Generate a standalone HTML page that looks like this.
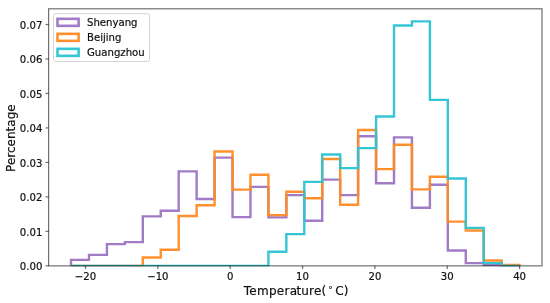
<!DOCTYPE html>
<html><head><meta charset="utf-8"><title>Temperature histogram</title>
<style>
html,body{margin:0;padding:0;background:#fff;}
svg{display:block;}
text{font-family:"DejaVu Sans","Liberation Sans",sans-serif;fill:#111;stroke:#111;stroke-width:0.2px;}
.t{font-size:10.15px;}
.l{font-size:12px;}
</style></head><body>
<svg width="550" height="303" viewBox="0 0 550 303">
<rect width="550" height="303" fill="#fff"/>
<defs><clipPath id="ax"><rect x="48.6" y="8.8" width="493.40" height="257.40"/></clipPath></defs><g clip-path="url(#ax)">
<path d="M71.03,265.85 L71.03,259.85 L88.97,259.85 L88.97,254.89 L106.92,254.89 L106.92,244.13 L124.86,244.13 L124.86,242.13 L142.80,242.13 L142.80,216.37 L160.74,216.37 L160.74,210.79 L178.69,210.79 L178.69,171.37 L196.63,171.37 L196.63,198.96 L214.57,198.96 L214.57,157.58 L232.52,157.58 L232.52,217.10 L250.46,217.10 L250.46,186.89 L268.40,186.89 L268.40,217.37 L286.34,217.37 L286.34,195.17 L304.29,195.17 L304.29,220.68 L322.23,220.68 L322.23,179.65 L340.17,179.65 L340.17,195.17 L358.11,195.17 L358.11,136.21 L376.06,136.21 L376.06,183.27 L394.00,183.27 L394.00,137.34 L411.94,137.34 L411.94,207.68 L429.89,207.68 L429.89,184.82 L447.83,184.82 L447.83,250.47 L465.77,250.47 L465.77,263.09 L483.71,263.09 L483.71,264.82 L501.66,264.82 L501.66,265.85 L519.60,265.85 L519.60,265.85" fill="none" stroke="#9d74c3" stroke-opacity="0.95" stroke-width="2.4" stroke-linejoin="miter"/>
<path d="M71.03,265.85 L71.03,265.85 L88.97,265.85 L88.97,265.85 L106.92,265.85 L106.92,265.85 L124.86,265.85 L124.86,265.85 L142.80,265.85 L142.80,257.57 L160.74,257.57 L160.74,249.68 L178.69,249.68 L178.69,215.99 L196.63,215.99 L196.63,205.30 L214.57,205.30 L214.57,151.55 L232.52,151.55 L232.52,189.65 L250.46,189.65 L250.46,174.68 L268.40,174.68 L268.40,215.16 L286.34,215.16 L286.34,191.72 L304.29,191.72 L304.29,198.27 L322.23,198.27 L322.23,158.96 L340.17,158.96 L340.17,204.82 L358.11,204.82 L358.11,130.00 L376.06,130.00 L376.06,169.10 L394.00,169.10 L394.00,144.76 L411.94,144.76 L411.94,189.37 L429.89,189.37 L429.89,176.79 L447.83,176.79 L447.83,221.58 L465.77,221.58 L465.77,230.54 L483.71,230.54 L483.71,260.44 L501.66,260.44 L501.66,264.99 L519.60,264.99 L519.60,265.85" fill="none" stroke="#ff8a22" stroke-opacity="0.95" stroke-width="2.4" stroke-linejoin="miter"/>
<path d="M71.03,265.85 L71.03,265.85 L88.97,265.85 L88.97,265.85 L106.92,265.85 L106.92,265.85 L124.86,265.85 L124.86,265.85 L142.80,265.85 L142.80,265.85 L160.74,265.85 L160.74,265.85 L178.69,265.85 L178.69,265.85 L196.63,265.85 L196.63,265.85 L214.57,265.85 L214.57,265.85 L232.52,265.85 L232.52,265.85 L250.46,265.85 L250.46,265.85 L268.40,265.85 L268.40,251.78 L286.34,251.78 L286.34,234.13 L304.29,234.13 L304.29,181.89 L322.23,181.89 L322.23,154.48 L340.17,154.48 L340.17,168.17 L358.11,168.17 L358.11,148.17 L376.06,148.17 L376.06,116.45 L394.00,116.45 L394.00,25.52 L411.94,25.52 L411.94,21.39 L429.89,21.39 L429.89,99.90 L447.83,99.90 L447.83,178.48 L465.77,178.48 L465.77,227.92 L483.71,227.92 L483.71,263.09 L501.66,263.09 L501.66,265.85 L519.60,265.85 L519.60,265.85" fill="none" stroke="#2ac3d3" stroke-opacity="0.95" stroke-width="2.4" stroke-linejoin="miter"/>
</g>
<rect x="48.6" y="8.8" width="493.40" height="257.05" fill="none" stroke="#000" stroke-opacity="0.56" stroke-width="1.2"/>
<line x1="85.50" y1="265.85" x2="85.50" y2="268.95000000000005" stroke="#000" stroke-opacity="0.56" stroke-width="1.2"/><text class="t" x="85.50" y="279.85" text-anchor="middle">−20</text>
<line x1="157.85" y1="265.85" x2="157.85" y2="268.95000000000005" stroke="#000" stroke-opacity="0.56" stroke-width="1.2"/><text class="t" x="157.85" y="279.85" text-anchor="middle">−10</text>
<line x1="230.20" y1="265.85" x2="230.20" y2="268.95000000000005" stroke="#000" stroke-opacity="0.56" stroke-width="1.2"/><text class="t" x="230.20" y="279.85" text-anchor="middle">0</text>
<line x1="302.55" y1="265.85" x2="302.55" y2="268.95000000000005" stroke="#000" stroke-opacity="0.56" stroke-width="1.2"/><text class="t" x="302.55" y="279.85" text-anchor="middle">10</text>
<line x1="374.90" y1="265.85" x2="374.90" y2="268.95000000000005" stroke="#000" stroke-opacity="0.56" stroke-width="1.2"/><text class="t" x="374.90" y="279.85" text-anchor="middle">20</text>
<line x1="447.25" y1="265.85" x2="447.25" y2="268.95000000000005" stroke="#000" stroke-opacity="0.56" stroke-width="1.2"/><text class="t" x="447.25" y="279.85" text-anchor="middle">30</text>
<line x1="519.60" y1="265.85" x2="519.60" y2="268.95000000000005" stroke="#000" stroke-opacity="0.56" stroke-width="1.2"/><text class="t" x="519.60" y="279.85" text-anchor="middle">40</text>
<line x1="45.5" y1="265.85" x2="48.6" y2="265.85" stroke="#000" stroke-opacity="0.56" stroke-width="1.2"/><text class="t" x="42.40" y="270.15" text-anchor="end">0.00</text>
<line x1="45.5" y1="231.37" x2="48.6" y2="231.37" stroke="#000" stroke-opacity="0.56" stroke-width="1.2"/><text class="t" x="42.40" y="235.67" text-anchor="end">0.01</text>
<line x1="45.5" y1="196.89" x2="48.6" y2="196.89" stroke="#000" stroke-opacity="0.56" stroke-width="1.2"/><text class="t" x="42.40" y="201.19" text-anchor="end">0.02</text>
<line x1="45.5" y1="162.41" x2="48.6" y2="162.41" stroke="#000" stroke-opacity="0.56" stroke-width="1.2"/><text class="t" x="42.40" y="166.71" text-anchor="end">0.03</text>
<line x1="45.5" y1="127.93" x2="48.6" y2="127.93" stroke="#000" stroke-opacity="0.56" stroke-width="1.2"/><text class="t" x="42.40" y="132.23" text-anchor="end">0.04</text>
<line x1="45.5" y1="93.45" x2="48.6" y2="93.45" stroke="#000" stroke-opacity="0.56" stroke-width="1.2"/><text class="t" x="42.40" y="97.75" text-anchor="end">0.05</text>
<line x1="45.5" y1="58.97" x2="48.6" y2="58.97" stroke="#000" stroke-opacity="0.56" stroke-width="1.2"/><text class="t" x="42.40" y="63.27" text-anchor="end">0.06</text>
<line x1="45.5" y1="24.49" x2="48.6" y2="24.49" stroke="#000" stroke-opacity="0.56" stroke-width="1.2"/><text class="t" x="42.40" y="28.79" text-anchor="end">0.07</text>
<text class="l" x="243.8" y="294.8" letter-spacing="0.27">Tempera</text><text class="l" x="296.4" y="294.8" letter-spacing="0.18">ture(</text><text x="330.4" y="290.3" font-size="8px" text-anchor="middle">∘</text><text class="l" x="335.2" y="294.8" letter-spacing="0.3">C)</text>
<text class="l" transform="translate(14.5,138.13) rotate(-90)" text-anchor="middle">Percentage</text>
<rect x="53.5" y="13.7" width="96" height="47.8" rx="2" ry="2" fill="#fff" fill-opacity="0.8" stroke="#d4d4d4" stroke-width="1"/>
<rect x="57.5" y="18.85" width="21.1" height="7.0" fill="none" stroke="#9d74c3" stroke-opacity="0.95" stroke-width="2.6"/><text class="t" x="87" y="26.10">Shenyang</text>
<rect x="57.5" y="33.85" width="21.1" height="7.0" fill="none" stroke="#ff8a22" stroke-opacity="0.95" stroke-width="2.6"/><text class="t" x="87" y="41.10">Beijing</text>
<rect x="57.5" y="48.85" width="21.1" height="7.0" fill="none" stroke="#2ac3d3" stroke-opacity="0.95" stroke-width="2.6"/><text class="t" x="87" y="56.10">Guangzhou</text>
</svg></body></html>
